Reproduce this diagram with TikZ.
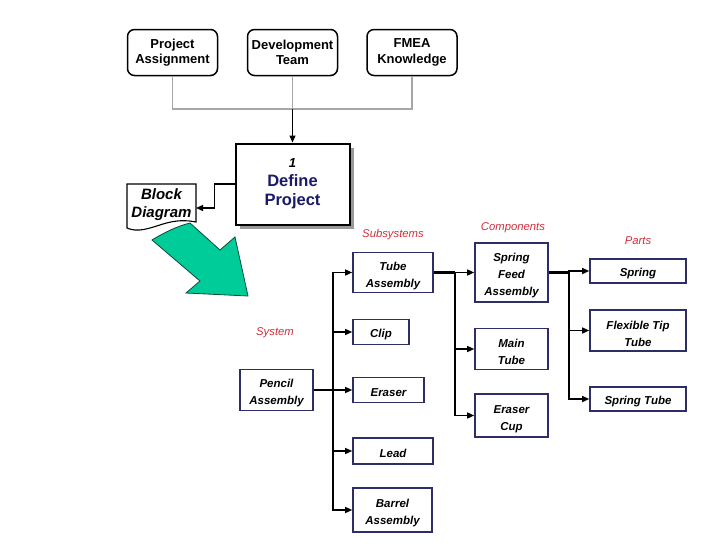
\documentclass[tikz,border=0pt]{standalone}
\usepackage{fontspec}
\setmainfont{Liberation Sans}
\usetikzlibrary{arrows.meta,shadows}
\definecolor{navybox}{HTML}{2E2E66}
\definecolor{navytext}{HTML}{1A1A66}
\definecolor{redlab}{HTML}{CC2F3A}
\definecolor{greenarr}{HTML}{00CC99}
\definecolor{greenedge}{HTML}{0A4A3A}
\newcommand{\topstrut}{\rule{0pt}{14.5pt}}
\begin{document}
\begin{tikzpicture}[x=1pt,y=-1pt,
  topbox/.style={draw=black, line width=1.5pt, rounded corners=7pt, fill=white,
    minimum width=90pt, minimum height=46pt, inner sep=0pt, align=center,
    font=\fontsize{13}{15.5}\selectfont\bfseries},
  nbox/.style={draw=navybox, line width=1.6pt, fill=white, inner sep=0pt, align=center,
    font=\fontsize{11.5}{17}\selectfont\bfseries\itshape,
    execute at begin node={\rule{0pt}{13.5pt}}},
  redlabel/.style={text=redlab, inner sep=0pt, font=\fontsize{11.3}{13}\selectfont\itshape},
  conn/.style={line width=1.3pt, -{Triangle[length=7pt,width=6pt]}},
  trunk/.style={line width=2.6pt},
  grayline/.style={draw=gray!70, line width=1.1pt}
]
\useasboundingbox (0,0) rectangle (728,546);
% top boxes
\node[topbox] (pa) at (172.5,52.5) {Project\\Assignment};
\node[topbox] (dt) at (292.5,52.5) {Development\\Team};
\node[topbox] (fk) at (412,52.5) {FMEA\\Knowledge};
\coordinate (j) at (292.5,109);
\draw[grayline] (pa.south) |- (j) -| (fk.south);
\draw[grayline] (dt.south) -- (j);
% define project
\node[draw=black, line width=2pt, fill=white, minimum width=114pt, minimum height=81pt,
  inner sep=0pt, align=center, text=navytext,
  font=\fontsize{16.5}{19}\selectfont\bfseries,
  drop shadow={shadow xshift=4pt, shadow yshift=-4pt, fill=gray!80, opacity=1}] (dp) at (292.5,184)
  {{\color{black}\fontsize{13}{15}\selectfont\itshape 1}\\Define\\Project};
\draw[conn] (j) -- (dp.north);
% block diagram document
\draw[line width=1.1pt, fill=white] (127,184) -- (196,184) -- (196,222)
  .. controls (186,220) and (176,220) .. (163,224)
  .. controls (150,228) and (138,233) .. (127,228) -- cycle;
\node[inner sep=0pt, align=center, font=\fontsize{15}{18}\selectfont\bfseries\itshape] (bd) at (161.5,204.5) {Block\\Diagram};
\coordinate (bdin) at (196,208);
\draw[conn] (dp.west) -- ++(-20,0) |- (bdin);
% green arrow
\draw[fill=greenarr, draw=greenedge, line width=0.8pt, line join=miter]
  (152,240) .. controls (165,232) and (178,226) .. (190,223) -- (220,250) -- (235,237)
  -- (248,296) -- (186,293) -- (200,281) -- cycle;
% labels
\node[redlabel] (lsub) at (393,235) {Subsystems};
\node[redlabel] (lcomp) at (513,228) {Components};
\node[redlabel] (lpart) at (638,241) {Parts};
\node[redlabel] (lsys) at (275,333) {System};
% system
\node[nbox, minimum width=73pt, minimum height=41pt] (pen) at (276.5,390) {\topstrut Pencil\\Assembly};
% subsystems
\node[nbox, minimum width=80pt, minimum height=40pt] (tube) at (393,272.5) {\topstrut Tube\\Assembly};
\node[nbox, minimum width=56pt, minimum height=25pt] (clip) at (381,332) {Clip};
\node[nbox, minimum width=71pt, minimum height=25pt] (eras) at (388.5,390) {Eraser};
\node[nbox, minimum width=80pt, minimum height=26pt] (lead) at (393,451) {Lead};
\node[nbox, minimum width=79pt, minimum height=44pt] (barr) at (392.5,510) {\topstrut Barrel\\Assembly};
% components
\node[nbox, minimum width=73pt, minimum height=59pt] (sf) at (511.5,272.5) {\topstrut Spring\\Feed\\Assembly};
\node[nbox, minimum width=73pt, minimum height=41pt] (mt) at (511.5,349) {\topstrut Main\\Tube};
\node[nbox, minimum width=73pt, minimum height=43pt] (ec) at (511.5,415.5) {\topstrut Eraser\\Cup};
% parts
\node[nbox, minimum width=96pt, minimum height=24pt] (spr) at (638,271) {Spring};
\node[nbox, minimum width=96pt, minimum height=41pt] (ft) at (638,330.5) {\topstrut Flexible Tip\\Tube};
\node[nbox, minimum width=96pt, minimum height=24pt] (st) at (638,399) {Spring Tube};
% connectors system -> subsystems
\coordinate (b1) at (333,390);
\draw[trunk] (pen.east) -- (b1);
\foreach \t in {tube,clip,eras,lead,barr} \draw[conn] (b1) |- (\t.west);
% tube -> components
\coordinate (b2) at (455,272.5);
\draw[trunk] (tube.east) -- (b2);
\foreach \t in {sf,mt,ec} \draw[conn] (b2) |- (\t.west);
% spring feed -> parts
\coordinate (b3) at (569,272.5);
\draw[trunk] (sf.east) -- (b3);
\foreach \t in {spr,ft,st} \draw[conn] (b3) |- (\t.west);
\end{tikzpicture}
\end{document}
